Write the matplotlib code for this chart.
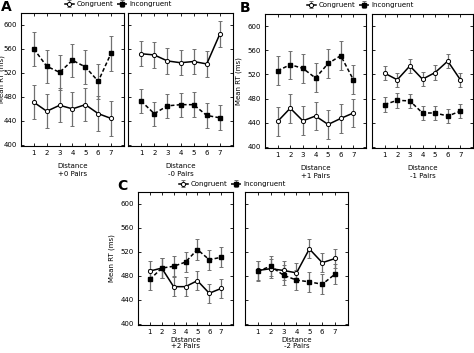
import numpy as np
import matplotlib.pyplot as plt

dist = [1, 2, 3, 4, 5, 6, 7]

# panel A
a0_con = [471, 456, 466, 460, 467, 452, 444]
a0_con_err = [28, 28, 28, 28, 28, 29, 29]
a0_inc = [560, 531, 521, 541, 530, 506, 553]
a0_inc_err = [28, 28, 29, 28, 28, 29, 29]
a1_con = [552, 550, 540, 537, 539, 535, 585]
a1_con_err = [21, 21, 21, 21, 21, 21, 21]
a1_inc = [473, 452, 465, 467, 467, 449, 445]
a1_inc_err = [20, 20, 20, 20, 21, 21, 21]

# panel B
b0_con = [442, 464, 443, 451, 437, 447, 456]
b0_con_err = [24, 24, 24, 24, 24, 24, 24]
b0_inc = [526, 536, 530, 514, 538, 551, 511]
b0_inc_err = [24, 23, 24, 24, 24, 24, 24]
b1_con = [522, 511, 534, 512, 523, 542, 511]
b1_con_err = [12, 12, 12, 12, 12, 12, 12]
b1_inc = [470, 477, 476, 456, 456, 451, 459]
b1_inc_err = [12, 12, 12, 12, 12, 12, 12]

# panel C
c0_con = [488, 493, 462, 462, 472, 451, 459]
c0_con_err = [16, 16, 16, 16, 16, 16, 16]
c0_inc = [474, 493, 496, 503, 524, 507, 511]
c0_inc_err = [17, 17, 17, 17, 17, 17, 17]
c1_con = [489, 492, 489, 485, 525, 502, 509]
c1_con_err = [16, 16, 16, 16, 16, 16, 16]
c1_inc = [488, 496, 481, 473, 470, 466, 483]
c1_inc_err = [17, 17, 17, 17, 17, 17, 17]

yticks = [400, 440, 480, 520, 560, 600]

fig = plt.figure(figsize=(4.74, 3.53), dpi=100)


def panel(rect, con, con_err, inc, inc_err, xlab, ylabel=False, xpad=5, ls=1.3):
    ax = fig.add_axes(rect)
    h1 = ax.errorbar(dist, con, yerr=con_err, color="black", lw=1.1, ls="-",
                     marker="o", ms=3, mfc="white", mec="black", mew=0.7,
                     ecolor="#707070", elinewidth=0.9, capsize=1.2, capthick=0.7)
    h2 = ax.errorbar(dist, inc, yerr=inc_err, color="black", lw=1.1, ls=(0, (2.5, 1.5)),
                     marker="s", ms=3, mfc="black", mec="black",
                     ecolor="#707070", elinewidth=0.9, capsize=1.2, capthick=0.7)
    ax.set_xlim(0, 8)
    ax.set_ylim(398, 620)
    ax.set_xticks(dist)
    ax.set_yticks(yticks)
    ax.tick_params(direction="in", length=2, width=0.6, labelsize=5, pad=3,
                   top=True, right=True)
    if not ylabel:
        ax.set_yticklabels([])
    else:
        ax.set_ylabel("Mean RT (ms)", fontsize=5, labelpad=4)
    ax.set_xlabel(xlab, fontsize=5, labelpad=xpad, linespacing=ls)
    for s in ax.spines.values():
        s.set_linewidth(0.8)
    return ax, h1, h2


H = 1 / 353
W = 1 / 474

axa, h1, h2 = panel([21 * W, 1 - 146 * H, 103 * W, 133 * H], a0_con, a0_con_err,
                    a0_inc, a0_inc_err, "Distance\n+0 Pairs", ylabel=True)
axa.yaxis.set_label_coords(-16 / 103, 0.5)
panel([128 * W, 1 - 146 * H, 105 * W, 133 * H], a1_con, a1_con_err,
      a1_inc, a1_inc_err, "Distance\n-0 Pairs")
panel([265 * W, 1 - 148 * H, 101 * W, 134 * H], b0_con, b0_con_err,
      b0_inc, b0_inc_err, "Distance\n+1 Pairs", ylabel=True)
panel([372 * W, 1 - 148 * H, 101 * W, 134 * H], b1_con, b1_con_err,
      b1_inc, b1_inc_err, "Distance\n-1 Pairs")
panel([138 * W, 1 - 325 * H, 95 * W, 133 * H], c0_con, c0_con_err,
      c0_inc, c0_inc_err, "Distance\n+2 Pairs", ylabel=True, xpad=1, ls=1.1)
panel([245 * W, 1 - 325 * H, 103 * W, 133 * H], c1_con, c1_con_err,
      c1_inc, c1_inc_err, "Distance\n-2 Pairs", xpad=1, ls=1.1)

for x, y in [(118, 4), (360, 5), (232, 184)]:
    fig.legend([h1, h2], ["Congruent", "Incongruent"], loc="center",
               bbox_to_anchor=(x * W, 1 - y * H), ncol=2, frameon=False,
               fontsize=5, handlelength=1.4, handletextpad=0.3,
               columnspacing=0.6, borderpad=0)

fig.text(1 * W, 1 - 7 * H, "A", fontsize=10, fontweight="bold", va="center")
fig.text(240 * W, 1 - 8 * H, "B", fontsize=10, fontweight="bold", va="center")
fig.text(117 * W, 1 - 186 * H, "C", fontsize=10, fontweight="bold", va="center")

fig.savefig("out.png", dpi=100)
